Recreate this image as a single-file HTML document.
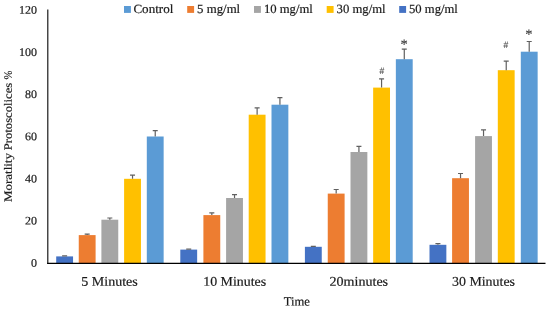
<!DOCTYPE html>
<html><head><meta charset="utf-8"><title>Chart</title>
<style>
html,body{margin:0;padding:0;background:#fff}
svg{display:block}
text{font-family:"Liberation Serif",serif;fill:#1a1a1a;stroke:#1a1a1a;stroke-width:0.2px}
.tick{font-size:11.7px}
.leg{font-size:12.6px}
.cat{font-size:13.3px}
.ttl{font-size:12.5px}
.ytl{font-size:11.2px}
.hash{font-family:"Liberation Sans",sans-serif;font-size:9.3px;fill:#505050;stroke:#505050;stroke-width:0.15px}
.star{font-family:"Liberation Serif",serif;font-size:14.5px;fill:#303030;stroke:#303030;stroke-width:0.1px}
</style></head><body>
<svg width="550" height="309" viewBox="0 0 550 309">
<rect width="550" height="309" fill="#fff"/>
<rect x="56.20" y="256.40" width="16.85" height="6.60" fill="#4472C4"/>
<path d="M64.62 256.40V255.90M62.12 255.90H67.12" stroke="#606060" stroke-width="1.2" fill="none"/>
<rect x="78.75" y="235.10" width="16.85" height="27.90" fill="#ED7D31"/>
<path d="M87.17 235.10V234.20M84.67 234.20H89.67" stroke="#606060" stroke-width="1.2" fill="none"/>
<rect x="101.40" y="219.70" width="16.85" height="43.30" fill="#A5A5A5"/>
<path d="M109.83 219.70V218.00M107.33 218.00H112.33" stroke="#606060" stroke-width="1.2" fill="none"/>
<rect x="124.10" y="178.80" width="16.85" height="84.20" fill="#FFC000"/>
<path d="M132.53 178.80V175.10M130.03 175.10H135.03" stroke="#606060" stroke-width="1.2" fill="none"/>
<rect x="146.80" y="136.50" width="16.85" height="126.50" fill="#5B9BD5"/>
<path d="M155.23 136.50V130.70M152.73 130.70H157.73" stroke="#606060" stroke-width="1.2" fill="none"/>
<rect x="180.30" y="249.60" width="16.85" height="13.40" fill="#4472C4"/>
<path d="M188.73 249.60V249.10M186.23 249.10H191.23" stroke="#606060" stroke-width="1.2" fill="none"/>
<rect x="203.40" y="215.10" width="16.85" height="47.90" fill="#ED7D31"/>
<path d="M211.83 215.10V212.80M209.33 212.80H214.33" stroke="#606060" stroke-width="1.2" fill="none"/>
<rect x="226.10" y="198.00" width="16.85" height="65.00" fill="#A5A5A5"/>
<path d="M234.53 198.00V194.70M232.03 194.70H237.03" stroke="#606060" stroke-width="1.2" fill="none"/>
<rect x="248.70" y="114.70" width="16.85" height="148.30" fill="#FFC000"/>
<path d="M257.12 114.70V107.80M254.62 107.80H259.62" stroke="#606060" stroke-width="1.2" fill="none"/>
<rect x="271.50" y="104.70" width="16.85" height="158.30" fill="#5B9BD5"/>
<path d="M279.93 104.70V97.70M277.43 97.70H282.43" stroke="#606060" stroke-width="1.2" fill="none"/>
<rect x="304.90" y="246.80" width="16.85" height="16.20" fill="#4472C4"/>
<path d="M313.32 246.80V246.30M310.82 246.30H315.82" stroke="#606060" stroke-width="1.2" fill="none"/>
<rect x="327.75" y="193.60" width="16.85" height="69.40" fill="#ED7D31"/>
<path d="M336.18 193.60V189.50M333.68 189.50H338.68" stroke="#606060" stroke-width="1.2" fill="none"/>
<rect x="350.50" y="152.00" width="16.85" height="111.00" fill="#A5A5A5"/>
<path d="M358.93 152.00V146.30M356.43 146.30H361.43" stroke="#606060" stroke-width="1.2" fill="none"/>
<rect x="373.15" y="87.60" width="16.85" height="175.40" fill="#FFC000"/>
<path d="M381.57 87.60V78.80M379.07 78.80H384.07" stroke="#606060" stroke-width="1.2" fill="none"/>
<rect x="395.85" y="59.20" width="16.85" height="203.80" fill="#5B9BD5"/>
<path d="M404.28 59.20V49.10M401.78 49.10H406.78" stroke="#606060" stroke-width="1.2" fill="none"/>
<rect x="429.50" y="244.80" width="16.85" height="18.20" fill="#4472C4"/>
<path d="M437.93 244.80V243.70M435.43 243.70H440.43" stroke="#606060" stroke-width="1.2" fill="none"/>
<rect x="452.10" y="178.20" width="16.85" height="84.80" fill="#ED7D31"/>
<path d="M460.53 178.20V173.50M458.03 173.50H463.03" stroke="#606060" stroke-width="1.2" fill="none"/>
<rect x="475.10" y="136.10" width="16.85" height="126.90" fill="#A5A5A5"/>
<path d="M483.53 136.10V129.90M481.03 129.90H486.03" stroke="#606060" stroke-width="1.2" fill="none"/>
<rect x="497.80" y="70.20" width="16.85" height="192.80" fill="#FFC000"/>
<path d="M506.23 70.20V61.10M503.73 61.10H508.73" stroke="#606060" stroke-width="1.2" fill="none"/>
<rect x="520.80" y="51.70" width="16.85" height="211.30" fill="#5B9BD5"/>
<path d="M529.22 51.70V41.50M526.72 41.50H531.72" stroke="#606060" stroke-width="1.2" fill="none"/>
<path d="M47.8 9.4V263.9" stroke="#111" stroke-width="1.15" fill="none"/><path d="M47.2 263.42H545.5" stroke="#000" stroke-width="1.3" fill="none"/>
<text x="37.1" y="266.70" transform="rotate(0.03 37.1 266.70)" text-anchor="end" textLength="6.0" lengthAdjust="spacingAndGlyphs" class="tick">0</text>
<text x="37.1" y="224.56" transform="rotate(0.03 37.1 224.56)" text-anchor="end" textLength="12.0" lengthAdjust="spacingAndGlyphs" class="tick">20</text>
<text x="37.1" y="182.42" transform="rotate(0.03 37.1 182.42)" text-anchor="end" textLength="12.0" lengthAdjust="spacingAndGlyphs" class="tick">40</text>
<text x="37.1" y="140.28" transform="rotate(0.03 37.1 140.28)" text-anchor="end" textLength="12.0" lengthAdjust="spacingAndGlyphs" class="tick">60</text>
<text x="37.1" y="98.14" transform="rotate(0.03 37.1 98.14)" text-anchor="end" textLength="12.0" lengthAdjust="spacingAndGlyphs" class="tick">80</text>
<text x="37.1" y="56.00" transform="rotate(0.03 37.1 56.00)" text-anchor="end" textLength="18.0" lengthAdjust="spacingAndGlyphs" class="tick">100</text>
<text x="37.1" y="13.86" transform="rotate(0.03 37.1 13.86)" text-anchor="end" textLength="18.0" lengthAdjust="spacingAndGlyphs" class="tick">120</text>
<rect x="124" y="6.0" width="6.9" height="6.9" fill="#5B9BD5"/>
<text x="133.4" y="13.0" transform="rotate(0.03 133.4 13)" textLength="39.9" lengthAdjust="spacingAndGlyphs" class="leg">Control</text>
<rect x="187.2" y="6.0" width="6.9" height="6.9" fill="#ED7D31"/>
<text x="197.1" y="13.0" transform="rotate(0.03 197.1 13)" textLength="43.1" lengthAdjust="spacingAndGlyphs" class="leg">5 mg/ml</text>
<rect x="254" y="6.0" width="6.9" height="6.9" fill="#A5A5A5"/>
<text x="263.9" y="13.0" transform="rotate(0.03 263.9 13)" textLength="49.0" lengthAdjust="spacingAndGlyphs" class="leg">10 mg/ml</text>
<rect x="326.7" y="6.0" width="6.9" height="6.9" fill="#FFC000"/>
<text x="336.6" y="13.0" transform="rotate(0.03 336.6 13)" textLength="49.0" lengthAdjust="spacingAndGlyphs" class="leg">30 mg/ml</text>
<rect x="399.2" y="6.0" width="6.9" height="6.9" fill="#4472C4"/>
<text x="409.0" y="13.0" transform="rotate(0.03 409.0 13)" textLength="48.9" lengthAdjust="spacingAndGlyphs" class="leg">50 mg/ml</text>
<text x="109.5" y="285.8" transform="rotate(0.03 109.5 285.8)" text-anchor="middle" textLength="56.5" lengthAdjust="spacingAndGlyphs" class="cat">5 Minutes</text>
<text x="234.7" y="285.8" transform="rotate(0.03 234.7 285.8)" text-anchor="middle" textLength="63.0" lengthAdjust="spacingAndGlyphs" class="cat">10 Minutes</text>
<text x="358.8" y="285.8" transform="rotate(0.03 358.8 285.8)" text-anchor="middle" textLength="58.6" lengthAdjust="spacingAndGlyphs" class="cat">20minutes</text>
<text x="483.5" y="285.8" transform="rotate(0.03 483.5 285.8)" text-anchor="middle" textLength="63.0" lengthAdjust="spacingAndGlyphs" class="cat">30 Minutes</text>
<text x="283.7" y="305.6" transform="rotate(0.03 283.7 305.6)" textLength="26.2" lengthAdjust="spacingAndGlyphs" class="ttl">Time</text>
<text transform="translate(11.7 202.0) rotate(-90.03)" textLength="48.9" lengthAdjust="spacingAndGlyphs" class="ytl">Moratlity</text>
<text transform="translate(11.7 150.2) rotate(-90.03)" textLength="67.4" lengthAdjust="spacingAndGlyphs" class="ytl">Protoscolices</text>
<text transform="translate(11.7 79.6) rotate(-90.03)" textLength="8.9" lengthAdjust="spacingAndGlyphs" class="ytl">%</text>
<text x="381.9" y="73.8" transform="rotate(0.03 381.9 73.8)" text-anchor="middle" textLength="4.7" lengthAdjust="spacingAndGlyphs" class="hash">#</text>
<text x="505.85" y="47.6" transform="rotate(0.03 505.85 47.6)" text-anchor="middle" textLength="4.7" lengthAdjust="spacingAndGlyphs" class="hash">#</text>
<text x="404.15" y="48.9" transform="rotate(0.03 404.15 48.9)" text-anchor="middle" class="star">*</text>
<text x="528.9" y="39.0" transform="rotate(0.03 528.9 39)" text-anchor="middle" class="star">*</text>
</svg>
</body></html>
